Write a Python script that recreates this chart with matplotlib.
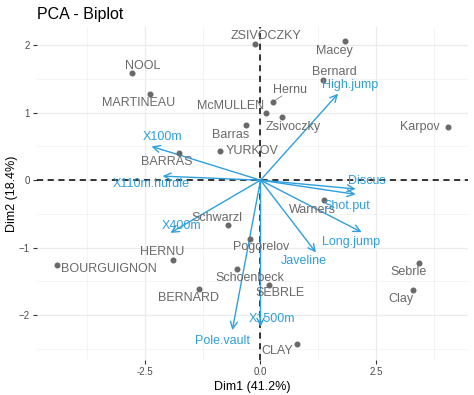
import matplotlib
matplotlib.use("Agg")
import matplotlib.pyplot as plt

plt.rcParams['font.family'] = ['Liberation Sans', 'DejaVu Sans']

# individuals (PCA scores, Dim1 / Dim2)
ind_names = ["SEBRLE", "CLAY", "BERNARD", "YURKOV", "ZSIVOCZKY", "McMULLEN",
             "MARTINEAU", "HERNU", "BARRAS", "NOOL", "BOURGUIGNON", "Sebrle",
             "Clay", "Karpov", "Macey", "Warners", "Zsivoczky", "Hernu",
             "Bernard", "Schwarzl", "Pogorelov", "Schoenbeck", "Barras"]
ind_x = [0.19, 0.79, -1.33, -0.87, -0.11, 0.12, -2.39, -1.90, -1.77, -2.79,
         -4.41, 3.44, 3.30, 4.06, 1.84, 1.38, 0.47, 0.27, 1.36, -0.71, -0.22,
         -0.51, -0.32]
ind_y = [-1.55, -2.42, -1.61, 0.43, 2.02, 0.99, 1.28, -1.18, 0.40, 1.58,
         -1.26, -1.22, -1.63, 0.79, 2.06, -0.29, 0.93, 1.16, 1.48, -0.66,
         -0.87, -1.31, 0.82]

# variables (arrow tips)
var_names = ["X100m", "Long.jump", "Shot.put", "High.jump", "X400m",
             "X110m.hurdle", "Discus", "Pole.vault", "Javeline", "X1500m"]
var_x = [-2.36, 2.19, 2.06, 1.68, -1.95, -2.12, 2.06, -0.61, 1.20, 0.00]
var_y = [0.50, -0.77, -0.21, 1.28, -0.78, 0.06, -0.13, -2.22, -1.07, -2.17]

# label offsets in pixels (repelled text)
ind_off = {"SEBRLE": (11, -8), "CLAY": (-20, -7), "BERNARD": (-11, -9),
           "YURKOV": (32, 0), "ZSIVOCZKY": (11, 8), "McMULLEN": (-35, 7),
           "MARTINEAU": (-11, -9), "HERNU": (-11, 8), "BARRAS": (-12, -9),
           "NOOL": (11, 7), "BOURGUIGNON": (52, -4), "Sebrle": (-11, -9),
           "Clay": (-12, -9), "Karpov": (-28, 0), "Macey": (-11, -10),
           "Warners": (-12, -10), "Zsivoczky": (11, -10), "Hernu": (17, 12),
           "Bernard": (11, 8), "Schwarzl": (-11, 7), "Pogorelov": (11, -8),
           "Schoenbeck": (13, -9), "Barras": (-15, -10)}
var_off = {"X100m": (11, 9), "Long.jump": (-11, -10), "Shot.put": (-9, -12),
           "High.jump": (12, 9), "X400m": (11, 7), "X110m.hurdle": (-11, -8),
           "Discus": (11, 8), "Pole.vault": (-10, -11), "Javeline": (-12, -9),
           "X1500m": (11, 8)}

col_ind = "#696969"
col_var = "#2E9FDF"

fig = plt.figure(figsize=(4.74, 3.95), dpi=100)
ax = fig.add_axes([0.078, 0.089, 0.909, 0.843])

ax.set_xlim(-4.84, 4.49)
ax.set_ylim(-2.66, 2.27)

ax.set_xticks([-2.5, 0, 2.5])
ax.set_xticklabels(["-2.5", "0.0", "2.5"])
ax.set_yticks([-2, -1, 0, 1, 2])
ax.set_xticks([-3.75, -1.25, 1.25, 3.75], minor=True)
ax.set_yticks([-2.5, -1.5, -0.5, 0.5, 1.5], minor=True)
ax.grid(True, which="major", color="#EBEBEB", lw=0.9)
ax.grid(True, which="minor", color="#F2F2F2", lw=0.6)
ax.set_axisbelow(True)
for s in ax.spines.values():
    s.set_visible(False)
ax.tick_params(which="major", length=3, width=0.8, color="#333333",
               labelsize=7, labelcolor="#4D4D4D", pad=2)
ax.tick_params(which="minor", length=0)

ax.axhline(0, color="black", lw=1.1, ls=(0, (4, 3)), zorder=1)
ax.axvline(0, color="black", lw=1.1, ls=(0, (4, 3)), zorder=1)

ax.scatter(ind_x, ind_y, s=11, color=col_ind, zorder=3)
for n, x, y in zip(ind_names, ind_x, ind_y):
    dx, dy = ind_off[n]
    ax.annotate(n, (x, y), xytext=(dx, dy), textcoords="offset pixels",
                ha="center", va="center", fontsize=9, color=col_ind, zorder=4)
# repel segment for Hernu
i = ind_names.index("Hernu")
ax.annotate("", (ind_x[i], ind_y[i]), xytext=(9, 6), textcoords="offset pixels",
            arrowprops=dict(arrowstyle="-", color=col_ind, lw=0.5,
                            shrinkA=0, shrinkB=2))

for n, x, y in zip(var_names, var_x, var_y):
    ax.annotate("", xy=(x, y), xytext=(0, 0),
                arrowprops=dict(arrowstyle="->,head_length=0.5,head_width=0.25",
                                color=col_var, lw=1.0, shrinkA=0, shrinkB=0),
                zorder=2)
    dx, dy = var_off[n]
    ax.annotate(n, (x, y), xytext=(dx, dy), textcoords="offset pixels",
                ha="center", va="center", fontsize=9, color=col_var, zorder=4)

ax.set_title("PCA - Biplot", loc="left", fontsize=11.5, pad=6)
ax.set_xlabel("Dim1 (41.2%)", fontsize=9, labelpad=3)
ax.set_ylabel("Dim2 (18.4%)", fontsize=9, labelpad=1)

fig.savefig("out.png", dpi=100)
